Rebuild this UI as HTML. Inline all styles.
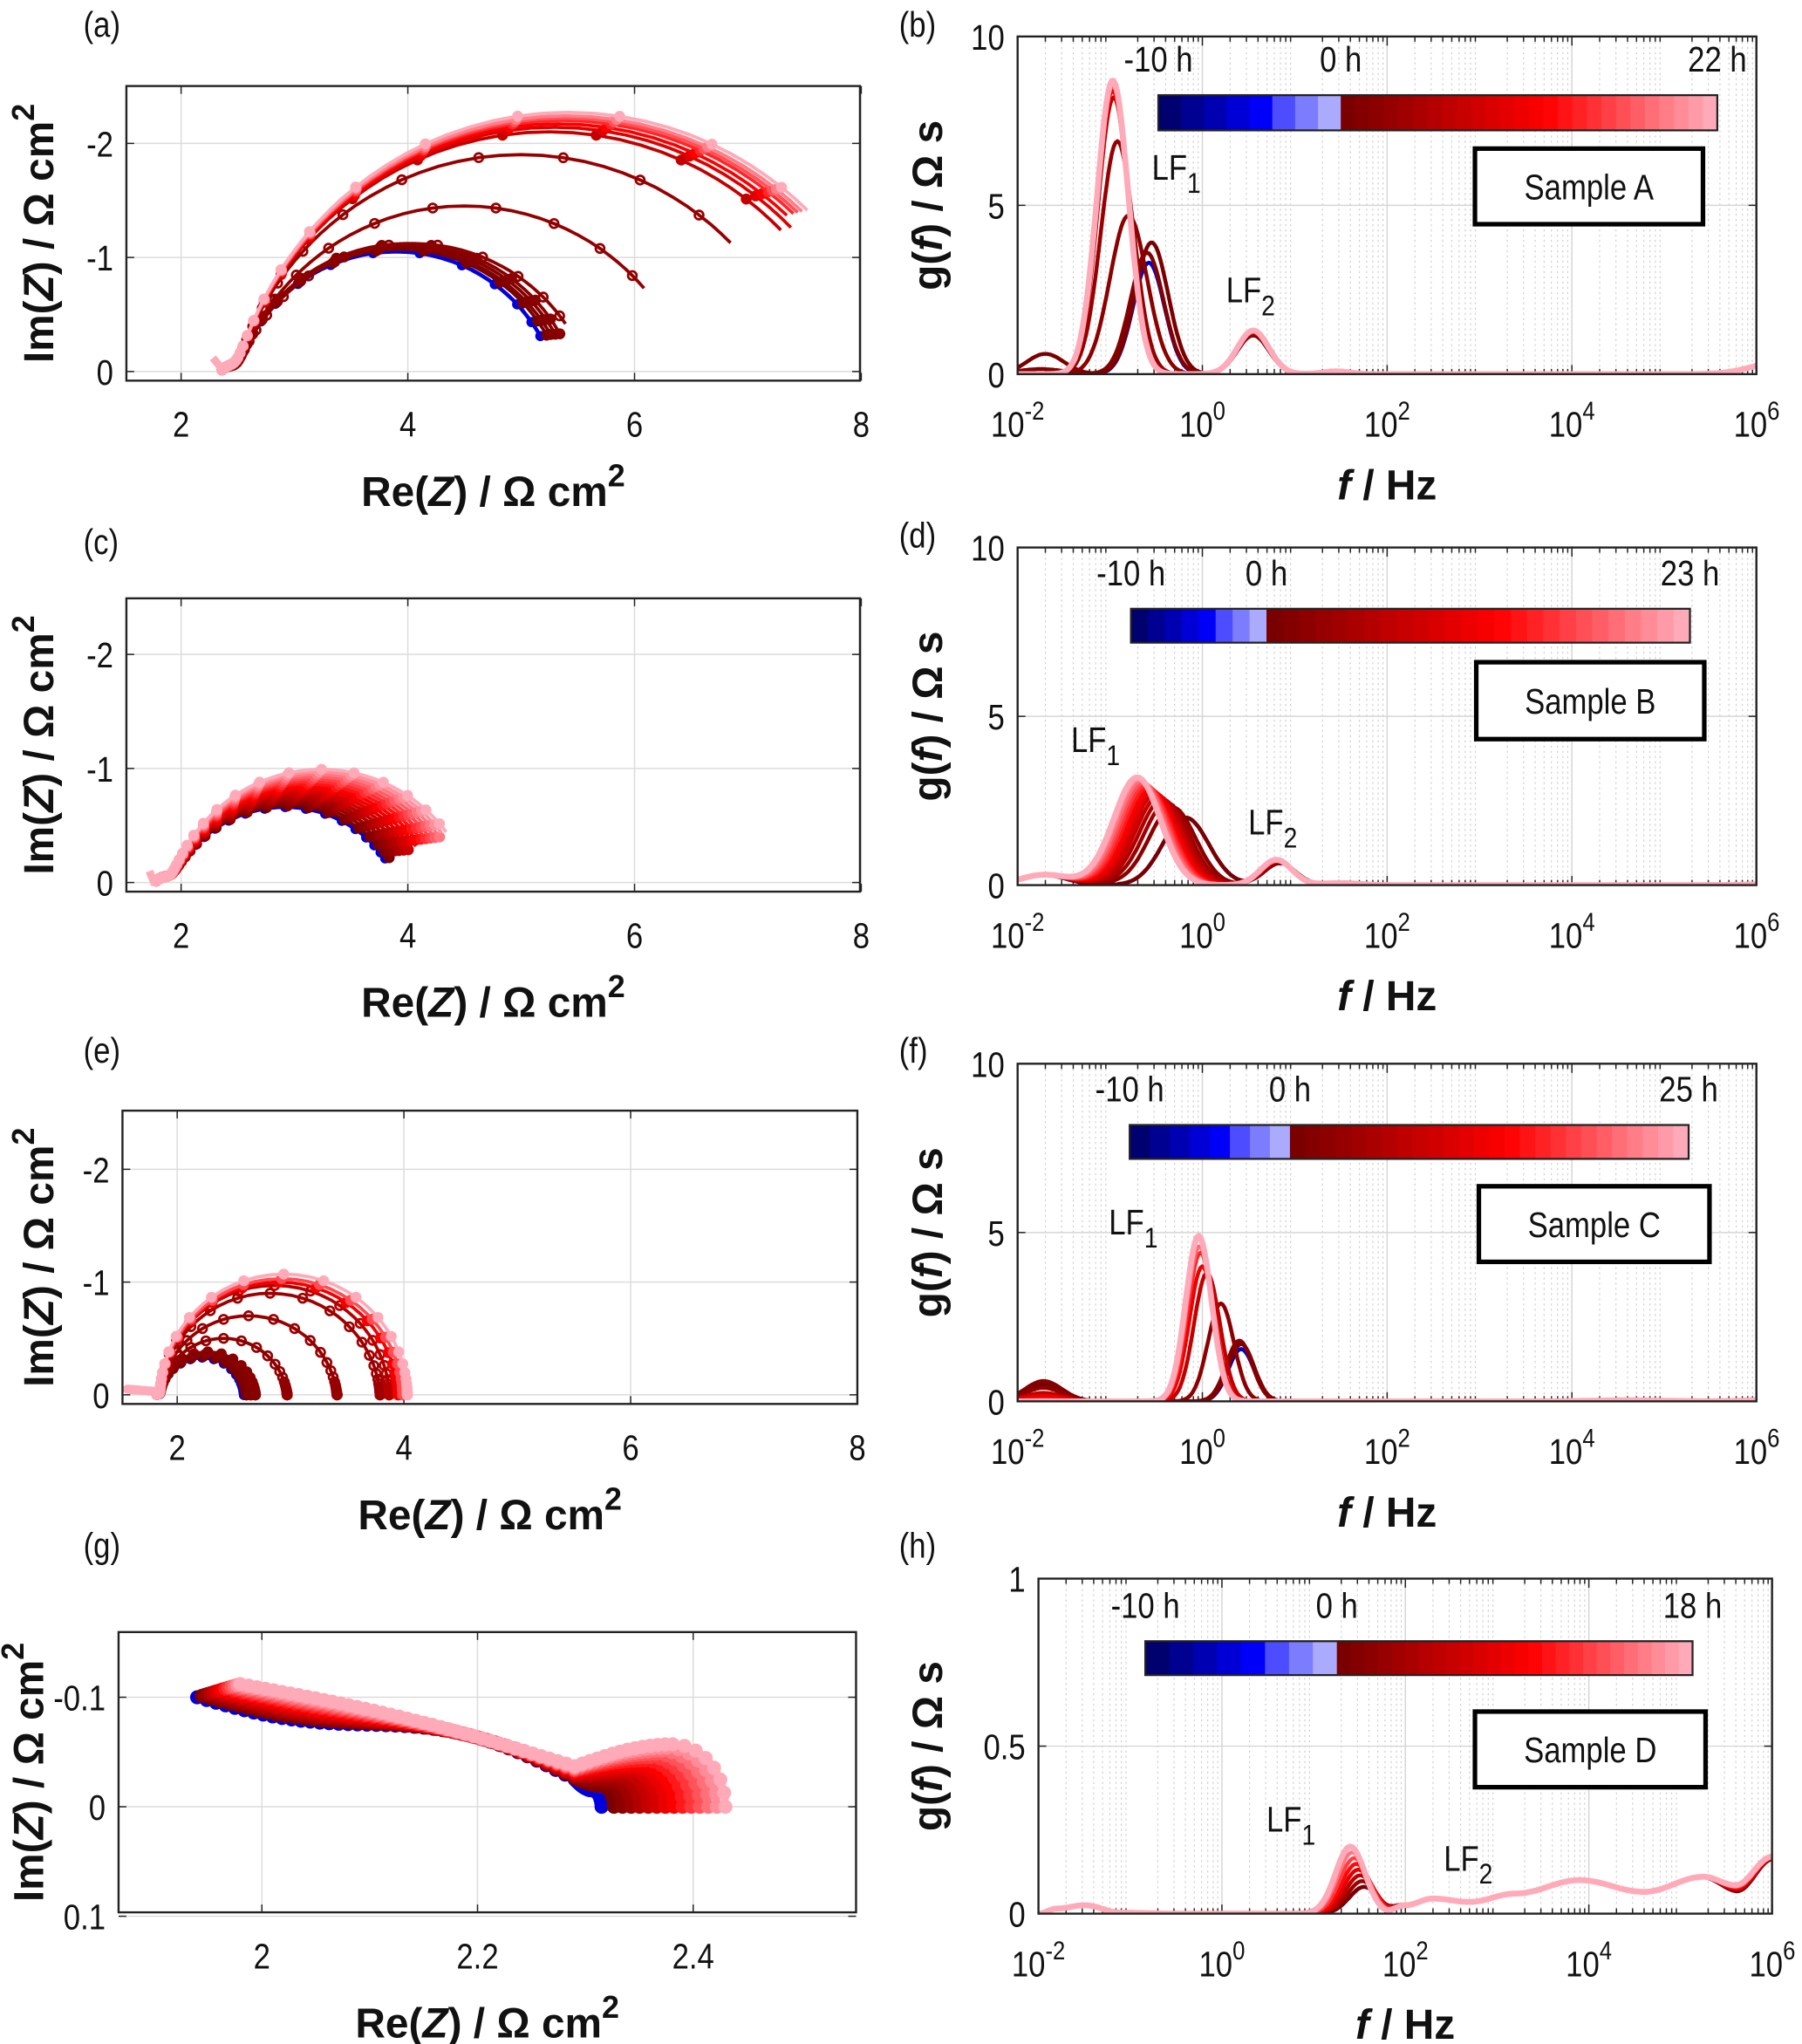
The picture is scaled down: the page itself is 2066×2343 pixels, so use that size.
<!DOCTYPE html>
<html><head><meta charset="utf-8"><style>
html,body{margin:0;padding:0;background:#fff;}
svg{display:block;}
text{font-family:"Liberation Sans Narrow","Liberation Sans",Arial,sans-serif;fill:#111;}
.tk{font-size:27px;}
.lb{font-size:32px;font-weight:bold;font-family:"Liberation Sans",Arial,sans-serif;}
</style></head><body>
<svg id="s" width="2066" height="2343" viewBox="0 0 1383 1568" preserveAspectRatio="none" xmlns="http://www.w3.org/2000/svg"></svg>
<script>
var o='';var cid=0;
function P(p){return 'M'+p.map(function(q){return q[0].toFixed(1)+' '+q[1].toFixed(1)}).join('L');}
function hx(c){return [parseInt(c.substr(1,2),16),parseInt(c.substr(3,2),16),parseInt(c.substr(5,2),16)];}
function cm(t){var st=[[0,'#7a0000'],[0.55,'#ff0000'],[1,'#ffaab8']];for(var i=0;i<st.length-1;i++){if(t<=st[i+1][0]){var u=(t-st[i][0])/(st[i+1][0]-st[i][0]);var a=hx(st[i][1]),b=hx(st[i+1][1]);return 'rgb('+[0,1,2].map(function(k){return Math.round(a[k]+(b[k]-a[k])*u)}).join(',')+')';}}return st[2][1];}
function T(x,y,s,cls,extra){o+='<text transform="translate('+x+','+y+') scale(0.86,1)" class="'+(cls||'tk')+'" '+(extra||'')+'>'+s+'</text>';}
function frame(ax){cid++;ax.clip='c'+cid;o+='<clipPath id="'+ax.clip+'"><rect x="'+ax.x0+'" y="'+ax.y0+'" width="'+(ax.x1-ax.x0)+'" height="'+(ax.y1-ax.y0)+'"/></clipPath>';}
function box(ax){o+='<rect x="'+ax.x0+'" y="'+ax.y0+'" width="'+(ax.x1-ax.x0)+'" height="'+(ax.y1-ax.y0)+'" fill="none" stroke="#222" stroke-width="1.6"/>';}
function linAxes(ax,xt,yt){frame(ax);
 xt.forEach(function(t){var x=ax.fx(t[0]);o+='<line x1="'+x+'" y1="'+ax.y0+'" x2="'+x+'" y2="'+ax.y1+'" stroke="#dcdcdc" stroke-width="1"/>';o+='<line x1="'+x+'" y1="'+ax.y0+'" x2="'+x+'" y2="'+(ax.y0+6)+'" stroke="#222"/><line x1="'+x+'" y1="'+ax.y1+'" x2="'+x+'" y2="'+(ax.y1-6)+'" stroke="#222"/>';T(x,ax.y1+43,t[1],'tk','text-anchor="middle"');});
 yt.forEach(function(t){var y=ax.fy(t[0]);o+='<line x1="'+ax.x0+'" y1="'+y+'" x2="'+ax.x1+'" y2="'+y+'" stroke="#dcdcdc" stroke-width="1"/>';o+='<line x1="'+ax.x0+'" y1="'+y+'" x2="'+(ax.x0+6)+'" y2="'+y+'" stroke="#222"/><line x1="'+ax.x1+'" y1="'+y+'" x2="'+(ax.x1-6)+'" y2="'+y+'" stroke="#222"/>';T(ax.x0-10,y+10,t[1],'tk','text-anchor="end"');});
}
function logAxes(ax,yt){frame(ax);
 for(var d=-2;d<6;d++){for(var k=2;k<10;k++){var x=ax.fx(d+Math.log10(k));o+='<line x1="'+x.toFixed(1)+'" y1="'+ax.y0+'" x2="'+x.toFixed(1)+'" y2="'+ax.y1+'" stroke="#cfcfcf" stroke-width="0.8" stroke-dasharray="1.5 2.5"/>';o+='<line x1="'+x.toFixed(1)+'" y1="'+ax.y0+'" x2="'+x.toFixed(1)+'" y2="'+(ax.y0+4)+'" stroke="#222"/><line x1="'+x.toFixed(1)+'" y1="'+ax.y1+'" x2="'+x.toFixed(1)+'" y2="'+(ax.y1-4)+'" stroke="#222"/>';}}
 [-2,0,2,4,6].forEach(function(d){var x=ax.fx(d);o+='<line x1="'+x+'" y1="'+ax.y0+'" x2="'+x+'" y2="'+ax.y1+'" stroke="#d6d6d6"/>';o+='<line x1="'+x+'" y1="'+ax.y0+'" x2="'+x+'" y2="'+(ax.y0+7)+'" stroke="#222"/><line x1="'+x+'" y1="'+ax.y1+'" x2="'+x+'" y2="'+(ax.y1-7)+'" stroke="#222"/>';
  T(x,ax.y1+48,'10<tspan dy="-13" font-size="20">'+d+'</tspan>','tk','text-anchor="middle"');});
 yt.forEach(function(t){var y=ax.fy(t[0]);o+='<line x1="'+ax.x0+'" y1="'+y+'" x2="'+ax.x1+'" y2="'+y+'" stroke="#d6d6d6"/>';o+='<line x1="'+ax.x0+'" y1="'+y+'" x2="'+(ax.x0+6)+'" y2="'+y+'" stroke="#222"/><line x1="'+ax.x1+'" y1="'+y+'" x2="'+(ax.x1-6)+'" y2="'+y+'" stroke="#222"/>';T(ax.x0-10,y+10,t[1],'tk','text-anchor="end"');});
}
function nyLabels(ax,lx){var cx=(ax.x0+ax.x1)/2,cy=(ax.y0+ax.y1)/2;
 o+='<text x="'+cx+'" y="'+(ax.y1+96)+'" class="lb" text-anchor="middle">Re(<tspan font-style="italic">Z</tspan>) / Ω cm<tspan dy="-15" font-size="24">2</tspan></text>';
 o+='<text transform="translate('+(lx||41)+','+cy+') rotate(-90)" class="lb" text-anchor="middle">Im(<tspan font-style="italic">Z</tspan>) / Ω cm<tspan dy="-15" font-size="24">2</tspan></text>';}
function drtLabels(ax){var cx=(ax.x0+ax.x1)/2,cy=(ax.y0+ax.y1)/2;
 o+='<text x="'+cx+'" y="'+(ax.y1+96)+'" class="lb" text-anchor="middle"><tspan font-style="italic">f</tspan> / Hz</text>';
 o+='<text transform="translate(723,'+cy+') rotate(-90)" class="lb" text-anchor="middle">g(<tspan font-style="italic">f</tspan>) / Ω s</text>';}
// Nyquist model; truncation: stop when past the peak and y drops below yEnd
function nyq(R0,Rh,peakX,h,yEnd){var Rs=R0+Rh;var R=2*(peakX-Rs);var n=4/Math.PI*Math.atan(h/(R/2));var pts=[];
 for(var u=4.5;u>=-5;u-=0.05){var w=Math.pow(10,u);
  var a1=Math.pow(w*1e-3,0.6),c1=Math.cos(0.3*Math.PI),s1=Math.sin(0.3*Math.PI);var re1=1+a1*c1,im1=a1*s1,d1=re1*re1+im1*im1;
  var an=Math.pow(w,n),re2=1+an*Math.cos(n*Math.PI/2),im2=an*Math.sin(n*Math.PI/2),d2=re2*re2+im2*im2;
  var x=R0+Rh*re1/d1+R*re2/d2,y=Rh*im1/d1+R*im2/d2;if(x>peakX&&y<yEnd)break;pts.push([x,y]);}
 return pts;}
function drawNy(ax,pts,col,sw,mr,fill,every){var q=pts.map(function(p){return [ax.fx(p[0]),ax.fy(p[1])]});
 o+='<g clip-path="url(#'+ax.clip+')"><path d="'+P(q)+'" fill="none" stroke="'+col+'" stroke-width="'+sw+'" stroke-linejoin="round"/>';
 for(var i=0;i<q.length;i+=every){o+='<circle cx="'+q[i][0].toFixed(1)+'" cy="'+q[i][1].toFixed(1)+'" r="'+mr+'" fill="'+(fill?col:'#fff')+'" fill-opacity="'+(fill?1:0)+'" stroke="'+col+'" stroke-width="1.8"/>';}
 o+='</g>';}
function drtCurve(ax,fn,col,sw){var q=[];for(var l=-2;l<=6.001;l+=0.02){q.push([ax.fx(l),ax.fy(fn(l))]);}
 o+='<g clip-path="url(#'+ax.clip+')"><path d="'+P(q)+'" fill="none" stroke="'+col+'" stroke-width="'+sw+'" stroke-linejoin="round"/></g>';}
function G(l,g){var s=0;g.forEach(function(e){s+=e[2]*Math.exp(-0.5*Math.pow((l-e[0])/e[1],2));});return s;}
function interp(pts,l){if(l<=pts[0][0])return pts[0][1];for(var i=0;i<pts.length-1;i++){if(l<=pts[i+1][0]){var u=(l-pts[i][0])/(pts[i+1][0]-pts[i][0]);u=(1-Math.cos(Math.PI*u))/2;return pts[i][1]+(pts[i+1][1]-pts[i][1])*u;}}return pts[pts.length-1][1];}
function cbar(x0,x1,xb,y0,y1,labs){var nb=8,nr=26;for(var i=0;i<nb;i++){var t=i/(nb-1);var col;if(t<0.6){var u=t/0.6;col='rgb(0,0,'+Math.round(110+145*u)+')';}else{var u=(t-0.6)/0.4;col='rgb('+Math.round(40+130*u)+','+Math.round(40+130*u)+',255)';}
  var w=(xb-x0)/nb;o+='<rect x="'+(x0+i*w).toFixed(1)+'" y="'+y0+'" width="'+(w+0.6).toFixed(1)+'" height="'+(y1-y0)+'" fill="'+col+'"/>';}
 for(var i=0;i<nr;i++){var w=(x1-xb)/nr;o+='<rect x="'+(xb+i*w).toFixed(1)+'" y="'+y0+'" width="'+(w+0.6).toFixed(1)+'" height="'+(y1-y0)+'" fill="'+cm(i/(nr-1))+'"/>';}
 o+='<rect x="'+x0+'" y="'+y0+'" width="'+(x1-x0)+'" height="'+(y1-y0)+'" fill="none" stroke="#222" stroke-width="1.5"/>';
 T(x0,y0-18,labs[0],'tk','text-anchor="middle"');T(xb,y0-18,labs[1],'tk','text-anchor="middle"');T(x1,y0-18,labs[2],'tk','text-anchor="middle"');}
function sbox(x0,y0,x1,y1,s){o+='<rect x="'+x0+'" y="'+y0+'" width="'+(x1-x0)+'" height="'+(y1-y0)+'" fill="#fff" stroke="#000" stroke-width="3.5"/>';T((x0+x1)/2,(y0+y1)/2+10,s,'tk','text-anchor="middle" font-size="30"');}
function LF(x,y,n){T(x,y,'LF<tspan dy="10" font-size="22">'+n+'</tspan>','tk','font-size="33"');}
function lab(x,y,s){T(x,y,s,'tk','font-size="29"');}

// ---------- (a)
var A={x0:97,x1:660,y0:66,y1:292,fx:function(v){return 139+(v-2)*87},fy:function(v){return 285-v*87.5}};
linAxes(A,[[2,'2'],[4,'4'],[6,'6'],[8,'8']],[[0,'0'],[1,'-1'],[2,'-2']]);
var ca=[[3.93,1.07,0.3],[3.95,1.08,0.3],[3.97,1.1,0.31],[3.99,1.12,0.32],[4.05,1.12,0.4],[4.5,1.45,0.7],[5.0,1.9,1.05],[5.25,2.1,1.2],[5.3,2.14,1.25],[5.33,2.17,1.28],[5.36,2.2,1.3],[5.38,2.22,1.33],[5.4,2.24,1.36],[5.42,2.27,1.4]];
drawNy(A,nyq(2.35,0.15,3.9,1.05,0.28),'#0000dd',3,3,true,4);
ca.forEach(function(c,i){var t=i<7?i*0.02:0.3+(i-7)/6*0.7;var filled=(i<4||i>=7);drawNy(A,nyq(2.35,0.15,c[0],c[1],c[2]),cm(t),2.5,3.3,filled,4);});
o+='<path d="M'+A.fx(2.28)+' '+A.fy(0.12)+'L'+A.fx(2.38)+' '+A.fy(0.0)+'" stroke="#ffaab8" stroke-width="6"/>';
box(A);nyLabels(A);lab(64,28,'(a)');

// ---------- (c)
var C={x0:97,x1:660,y0:459,y1:684,fx:function(v){return 139+(v-2)*87},fy:function(v){return 677-v*87.5}};
linAxes(C,[[2,'2'],[4,'4'],[6,'6'],[8,'8']],[[0,'0'],[1,'-1'],[2,'-2']]);
drawNy(C,nyq(1.77,0.15,2.92,0.66,0.2),'#0000dd',3,3,true,3);
for(var i=0;i<16;i++){var u=i/15;drawNy(C,nyq(1.77,0.15,2.94+0.3*u,0.67+0.32*u,0.21+0.21*u),cm(u),2.5,3.3,true,3);}
o+='<path d="M'+C.fx(1.72)+' '+C.fy(0.1)+'L'+C.fx(1.77)+' '+C.fy(-0.02)+'" stroke="#ffaab8" stroke-width="6"/>';
box(C);nyLabels(C);lab(64,425,'(c)');

// ---------- (e)
var E={x0:94,x1:658,y0:852,y1:1077,fx:function(v){return 136+(v-2)*87},fy:function(v){return 1070-v*86.5}};
linAxes(E,[[2,'2'],[4,'4'],[6,'6'],[8,'8']],[[0,'0'],[1,'-1'],[2,'-2']]);
var ce=[[2.23,0.34],[2.25,0.36],[2.27,0.38],[2.41,0.5],[2.63,0.7],[2.82,0.9],[2.86,0.97],[2.9,1.0],[2.92,1.03],[2.94,1.07]];
drawNy(E,nyq(1.82,0.03,2.22,0.33,-1),'#0000dd',3,3,true,3);
ce.forEach(function(c,i){var t=i<6?i*0.03:0.25+(i-6)/3*0.75;drawNy(E,nyq(1.82,0.03,c[0],c[1],-1),cm(t),2.5,3.3,(i<3||i>=7),3);});
o+='<path d="M'+E.fx(1.56)+' '+E.fy(0.05)+'L'+E.fx(1.8)+' '+E.fy(0.03)+'" stroke="#ffaab8" stroke-width="7" stroke-linecap="round"/>';
box(E);nyLabels(E);lab(64,815,'(e)');

// ---------- (g)
var Gx={x0:91,x1:657,y0:1252,y1:1467,fx:function(v){return 201+(v-2)*827.5},fy:function(v){return 1386-v*840}};
linAxes(Gx,[[2,'2'],[2.2,'2.2'],[2.4,'2.4']],[[0.1,'-0.1'],[0,'0'],[-0.1,'0.1']]);
function gcurve(s){var pts=[];var xs=1.94+0.04*s,ys=0.10+0.012*s;var xm=2.29,ym=0.025+0.012*s;
 for(var u=0;u<=1.0001;u+=0.025){var x=xs+(xm-xs)*u;var y=ys+(ym-ys)*u+0.012*Math.sin(Math.PI*u)*(1-0.5*s)-0.01*Math.sin(2*Math.PI*u)*(1-s);pts.push([x,y]);}
 var xe=2.315+0.115*s,hp=0.015+0.042*s;
 for(var u=0.05;u<=1.0001;u+=0.05){var x=xm+(xe-xm)*u;var y=ym+(hp-ym)*Math.sin(Math.PI*Math.min(u/0.65,1)/2);if(u>0.65){var v=(u-0.65)/0.35;y=hp*Math.cos(v*Math.PI/2);x=xm+(xe-xm)*(0.65+0.35*Math.sin(v*Math.PI/2));}pts.push([x,y]);}
 return pts;}
drawNy(Gx,gcurve(0),'#0000dd',6,4.5,true,1);
for(var i=0;i<14;i++){var u=i/13;drawNy(Gx,gcurve(0.1+0.9*u),cm(u),6,4.5,true,1);}
box(Gx);nyLabels(Gx,33);lab(64,1195,'(g)');

// ---------- (b)
var B={x0:781,x1:1348,y0:28,y1:287,fx:function(l){return 781+(l+2)*70.9},fy:function(v){return 287-v*25.9}};
logAxes(B,[[0,'0'],[5,'5'],[10,'10']]);
var lf2b=[0.55,0.17,1.15],tailb=[[1.45,0.15,0.08],[6.25,0.3,0.35]];
drtCurve(B,function(l){return G(l,[[-0.58,0.17,3.3],lf2b].concat(tailb))},'#0000cc',3);
var bs=[[[-0.55,0.18,3.9],[-1.7,0.2,0.6]],[[-0.6,0.18,3.6],[-1.75,0.25,0.15]],[[-0.8,0.2,4.7]],[[-0.92,0.18,6.9]],[[-0.96,0.17,8.2]],[[-0.97,0.17,8.4]],[[-0.97,0.17,8.55]],[[-0.97,0.17,8.7]]];
bs.forEach(function(g,i){var t=i<4?i*0.04:0.3+(i-4)/3*0.7;drtCurve(B,function(l){return G(l,g.concat([[0.55,0.17,1.15+0.02*i]],tailb))},cm(t),i==7?4.5:3);});
box(B);drtLabels(B);lab(690,28,'(b)');
cbar(889,1318,1029,73,100,['-10 h','0 h','22 h']);
sbox(1132,114,1307,172,'Sample A');LF(884,138,1);LF(941,232,2);

// ---------- (d)
var D={x0:781,x1:1348,y0:420,y1:679,fx:function(l){return 781+(l+2)*70.9},fy:function(v){return 679-v*25.9}};
logAxes(D,[[0,'0'],[5,'5'],[10,'10']]);
for(var i=-1;i<14;i++){var u=Math.max(i,0)/13;u=Math.sqrt(u);drtCurve(D,function(l){return G(l,[[-0.18-0.52*u,0.25,2.0+1.1*u],[0.84-0.04*u,0.17,0.65+0.1*u],[-1.72,0.25,0.3],[-1.0,0.3,0.15*u],[1.5,0.2,0.06],[6.2,0.3,0.03]])},i<0?'#0000cc':cm(Math.max(i,0)/13),i==13?4.5:3);}
box(D);drtLabels(D);lab(690,420,'(d)');
cbar(868,1297,972,467,493,['-10 h','0 h','23 h']);
sbox(1133,508,1308,567,'Sample B');LF(822,577,1);LF(958,640,2);

// ---------- (f)
var F={x0:781,x1:1348,y0:816,y1:1075,fx:function(l){return 781+(l+2)*70.9},fy:function(v){return 1075-v*25.9}};
logAxes(F,[[0,'0'],[5,'5'],[10,'10']]);
var fs=[[0.42,1.7,0.5],[0.4,1.8,0.6],[0.2,2.9,0.4],[0.05,3.8,0.25],[0.0,4.0,0.15],[-0.02,4.4,0.05],[-0.03,4.6,0],[-0.04,4.9,0]];
drtCurve(F,function(l){return G(l,[[0.42,0.14,1.55],[-1.72,0.2,0.5],[4.6,0.4,0.03]])},'#0000cc',3);
fs.forEach(function(c,i){var t=i<3?i*0.04:0.3+(i-3)/4*0.7;drtCurve(F,function(l){return G(l,[[c[0],0.14,c[1]],[-1.72,0.2,c[2]],[4.6,0.4,0.03],[6.2,0.3,0.04]])},cm(t),i==7?4.5:3);});
box(F);drtLabels(F);lab(690,815,'(f)');
cbar(867,1296,990,863,889,['-10 h','0 h','25 h']);
sbox(1135,910,1312,968,'Sample C');LF(851,947,1);

// ---------- (h)
var H={x0:797,x1:1360,y0:1211,y1:1468,fx:function(l){return 797+(l+2)*70.4},fy:function(v){return 1468-v*257}};
logAxes(H,[[0,'0'],[0.5,'0.5'],[1,'1']]);
var hb=[[-2,0],[-1.8,0.015],[-1.5,0.025],[-1.1,0.003],[-0.5,0],[0.9,0],[1.75,0.0],[2.0,0.025],[2.3,0.045],[2.7,0.035],[3.2,0.06],[3.9,0.1],[4.6,0.065],[5.25,0.11],[5.6,0.085],[6,0.17]];
for(var i=-1;i<8;i++){var u=Math.max(i,0)/7;drtCurve(H,function(l){var base=interp(hb,l);return base+G(l,[[1.55-0.15*u,0.16,0.08+0.12*u]])-0.02*(1-u)*G(l,[[5.7,0.2,1]])},i<0?'#0000cc':cm(u),i==7?4.5:3);}
box(H);drtLabels(H);lab(690,1195,'(h)');
cbar(879,1299,1026,1259,1285,['-10 h','0 h','18 h']);
sbox(1132,1313,1309,1371,'Sample D');LF(972,1405,1);LF(1108,1435,2);

document.getElementById('s').innerHTML=o;
</script>
</body></html>
